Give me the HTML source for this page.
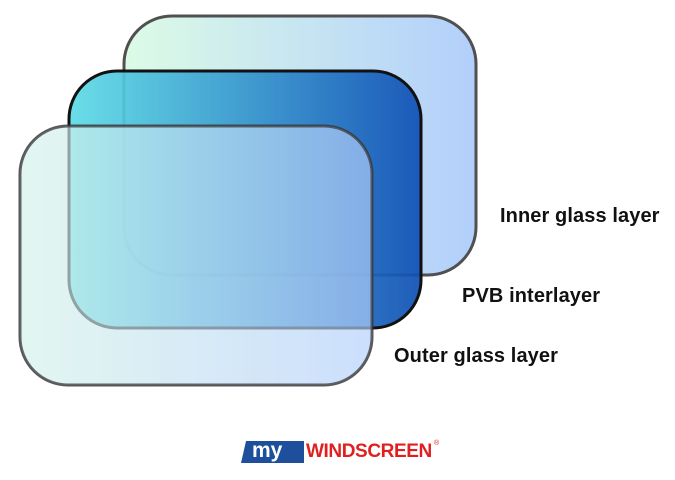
<!DOCTYPE html>
<html><head><style>
body{margin:0;background:#fff;width:675px;height:480px;overflow:hidden;font-family:"Liberation Sans",sans-serif;}
.t{position:absolute;font-weight:bold;font-size:20px;color:#111;white-space:nowrap;letter-spacing:0.1px}
</style></head><body>
<svg width="675" height="480" style="position:absolute;left:0;top:0">
<defs>
<linearGradient id="g1" x1="0" x2="1" y1="0" y2="0"><stop offset="0" stop-color="#dcfbe6"/><stop offset="1" stop-color="#b2cffb"/></linearGradient>
<linearGradient id="g2" x1="0" x2="1" y1="0" y2="0"><stop offset="0" stop-color="#5edce6"/><stop offset="1" stop-color="#0f50b5"/></linearGradient>
</defs>
<rect x="124" y="16" width="352" height="259" rx="48" fill="url(#g1)" stroke="#505050" stroke-width="3"/>
<rect x="69" y="71" width="352" height="257" rx="48" fill="url(#g2)" fill-opacity="0.93" stroke="#111" stroke-width="3"/>
<rect x="20" y="126" width="352" height="259" rx="48" fill="url(#g1)" fill-opacity="0.62" stroke="#3a3a3a" stroke-opacity="0.85" stroke-width="3"/>
<rect x="20" y="126" width="352" height="259" rx="48" fill="#b2cffb" fill-opacity="0.12"/>
</svg>
<div class="t" style="left:500px;top:205px">Inner glass layer</div>
<div class="t" style="left:462px;top:285px">PVB interlayer</div>
<div class="t" style="left:394px;top:345px">Outer glass layer</div>
<div style="position:absolute;left:241px;top:441px;width:63px;height:22px;background:#1d4f9c;clip-path:polygon(8% 0,100% 0,100% 100%,0 100%);"></div>
<div style="position:absolute;left:252px;top:439px;font-weight:bold;font-size:21px;color:#fff">my</div>
<div style="position:absolute;left:306px;top:441px;font-weight:bold;font-size:19px;color:#e02020;letter-spacing:-0.4px">WINDSCREEN</div>
<div style="position:absolute;left:434px;top:440px;font-size:7px;color:#e02020">®</div>
</body></html>
